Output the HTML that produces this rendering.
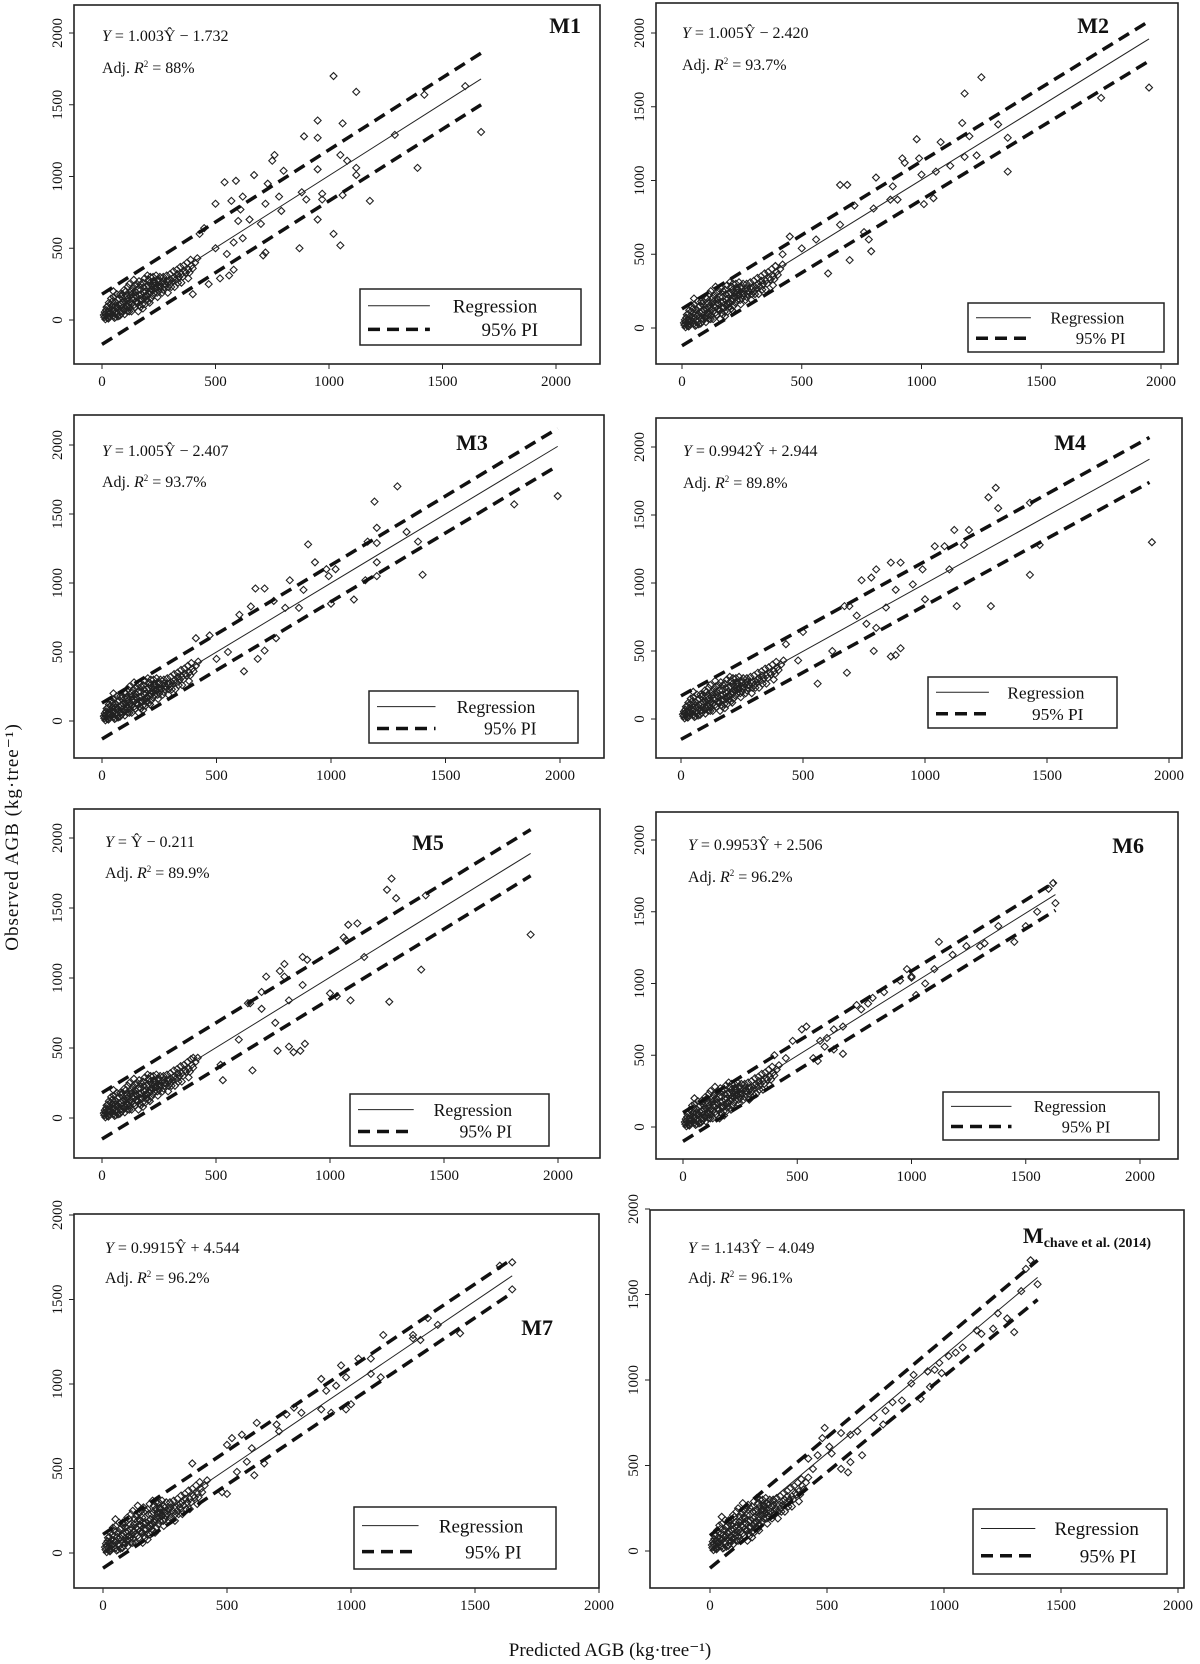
<!DOCTYPE html>
<html><head><meta charset="utf-8"><style>
body{margin:0;background:#fff}
svg{display:block}
text{font-family:"Liberation Serif",serif;fill:#111}
</style></head><body>
<svg id="fig" width="1200" height="1664" viewBox="0 0 1200 1664" xmlns="http://www.w3.org/2000/svg">
<text transform="translate(18,837) rotate(-90)" text-anchor="middle" font-size="19" letter-spacing="1">Observed AGB (kg·tree⁻¹)</text>
<text x="610" y="1656" text-anchor="middle" font-size="19">Predicted AGB (kg·tree⁻¹)</text>
</svg>
<script>
// ---- data ----
const panelNames = ["M1","M2","M3","M4","M5","M6","M7","M8"];
const equations = ["1.003\u0176 \u2212 1.732","1.005\u0176 \u2212 2.420","1.005\u0176 \u2212 2.407","0.9942\u0176 + 2.944","\u0176 \u2212 0.211","0.9953\u0176 + 2.506","0.9915\u0176 + 4.544","1.143\u0176 \u2212 4.049"];
const adjR2 = ["88%","93.7%","93.7%","89.8%","89.9%","96.2%","96.2%","96.1%"];
const xTicks = [0,500,1000,1500,2000];
const yTicks = [0,500,1000,1500,2000];
const lineEndX = [1670,1950,1990,1920,1880,1630,1650,1400];
const regStart = [0,0,0,0,0,0,0,0];
const regEnd = [1680,1960,1990,1910,1890,1620,1640,1600];
const upStart = [180,130,130,170,180,100,110,90];
const upEnd = [1860,2080,2120,2070,2060,1710,1740,1700];
const loStart = [-170,-120,-130,-150,-150,-100,-90,-100];
const loEnd = [1500,1810,1850,1740,1730,1510,1540,1470];
const clusterPts = [[10,20],[15,40],[20,30],[25,60],[30,15],[35,80],[40,50],[45,100],[50,30],[55,70],[60,120],[65,40],[70,90],[75,150],[80,60],[85,110],[90,180],[95,70],[100,130],[105,200],[110,90],[115,150],[120,60],[125,170],[130,110],[135,220],[140,140],[145,90],[150,190],[155,250],[160,120],[165,170],[170,210],[175,140],[180,260],[185,190],[190,110],[195,230],[200,170],[205,280],[210,200],[215,150],[220,240],[225,300],[230,190],[235,260],[240,220],[245,160],[250,270],[260,230],[270,300],[280,250],[290,190],[300,320],[310,270],[320,230],[330,350],[340,300],[350,260],[360,380],[370,330],[380,290],[390,420],[400,360],[20,90],[40,150],[60,20],[80,180],[100,40],[140,280],[160,60],[200,310],[120,250],[30,120],[50,200],[180,80],[12,55],[28,10],[45,130],[70,25],[90,60],[110,170],[130,60],[150,130],[170,90],[190,160],[210,120],[230,270],[250,200],[270,210],[300,250],[320,300],[350,320],[380,350],
[8,35],[18,70],[22,15],[33,45],[38,110],[48,65],[52,160],[58,95],[63,55],[68,140],[73,105],[78,30],[83,165],[88,85],[93,125],[98,210],[103,75],[108,140],[113,230],[118,110],[123,85],[128,200],[133,150],[138,100],[143,240],[148,170],[153,120],[158,210],[163,270],[168,140],[173,180],[178,110],[183,230],[188,290],[193,170],[198,140],[203,240],[208,180],[213,300],[218,210],[223,170],[228,260],[233,220],[238,310],[243,190],[248,240],[255,300],[265,260],[275,230],[285,310],[295,270],[305,230],[315,340],[325,280],[335,260],[345,370],[355,300],[365,340],[375,400],[385,330],[395,380],[410,400],[420,430],[15,5],[25,95],[35,25],[55,15],[65,180],[85,45],[105,105],[125,130],[145,200],[165,100],[185,150],[205,130],[225,210],[245,280],[265,190],[285,270],[62,85],[42,75],[32,60],[92,150],[112,60],[132,180],[152,160],[172,250],[192,200],[212,260],[232,240],[252,220],[272,270],[292,230],[312,290],[332,320]];
const pts1 = [[1020,1700],[1120,1590],[1600,1630],[1420,1570],[950,1390],[1060,1370],[890,1280],[950,1270],[1290,1290],[760,1150],[750,1110],[1050,1150],[1080,1110],[1120,1060],[1120,1010],[1390,1060],[950,1050],[670,1010],[540,960],[590,970],[800,1040],[730,950],[620,860],[570,830],[500,810],[780,860],[880,890],[900,840],[970,880],[970,840],[1060,870],[1180,830],[1670,1310],[720,810],[610,770],[650,700],[600,690],[700,670],[790,760],[950,700],[1020,600],[1050,520],[870,500],[720,470],[710,450],[580,540],[550,460],[450,640],[430,600],[500,500],[580,350],[560,310],[470,250],[400,180],[520,290],[620,570]];
const pts2 = [[1250,1700],[1180,1590],[1950,1630],[1750,1560],[1170,1390],[1320,1380],[1360,1290],[980,1280],[1080,1260],[1200,1300],[920,1150],[990,1150],[930,1120],[1120,1100],[1060,1060],[1360,1060],[1000,1040],[810,1020],[660,970],[690,970],[880,960],[720,830],[800,810],[870,870],[900,870],[1010,840],[1050,880],[780,600],[700,460],[610,370],[790,520],[560,600],[660,700],[450,620],[420,500],[500,540],[390,420],[760,650],[1180,1160],[1230,1170]];
const pts3 = [[1290,1700],[1190,1590],[1990,1630],[1800,1570],[1200,1400],[1330,1370],[900,1280],[1160,1300],[1200,1290],[930,1150],[980,1100],[1020,1100],[1200,1150],[1400,1060],[990,1050],[820,1020],[670,960],[710,960],[880,950],[750,870],[800,820],[860,820],[1000,850],[1100,880],[1150,1020],[1200,1050],[760,600],[710,510],[620,360],[680,450],[410,600],[470,620],[600,770],[650,830],[500,450],[550,500],[1380,1300]];
const pts4 = [[1290,1700],[1260,1630],[1300,1550],[1430,1590],[1930,1300],[1430,1060],[1270,830],[1080,1270],[1040,1270],[1120,1390],[1180,1390],[1160,1280],[1100,1100],[990,1100],[860,1150],[900,1150],[800,1100],[780,1040],[740,1020],[670,830],[690,830],[720,760],[760,700],[800,670],[840,820],[880,950],[950,990],[1000,880],[1130,830],[860,460],[880,470],[900,520],[790,500],[680,340],[560,260],[620,500],[480,430],[430,550],[500,640],[1470,1280]];
const pts5 = [[1270,1710],[1250,1630],[1290,1570],[1420,1590],[1880,1310],[1400,1060],[1260,830],[1060,1290],[1070,1270],[1120,1390],[1080,1380],[1150,1150],[880,1150],[900,1130],[800,1100],[780,1050],[800,1010],[720,1010],[700,900],[640,820],[650,820],[700,780],[760,680],[820,840],[880,950],[1000,890],[1030,870],[1090,840],[820,510],[840,470],[870,480],[890,530],[770,480],[660,340],[530,270],[600,560],[520,380],[400,430]];
const pts6 = [[1620,1700],[1600,1660],[1630,1560],[1450,1290],[1380,1400],[1300,1260],[1320,1280],[1120,1290],[1180,1200],[1100,1100],[980,1100],[1000,1040],[1000,1050],[950,1020],[1060,1000],[1020,920],[880,940],[830,900],[810,860],[780,820],[760,850],[700,700],[660,680],[630,620],[520,680],[540,700],[480,600],[600,600],[620,560],[660,540],[570,480],[590,460],[700,510],[400,500],[450,480],[1240,1260],[1500,1400],[1550,1500]];
const pts7 = [[1650,1720],[1600,1700],[1650,1560],[1440,1300],[1310,1390],[1250,1290],[1280,1260],[1130,1290],[1080,1060],[1120,1040],[1080,1150],[1030,1150],[960,1110],[980,1040],[940,990],[880,1030],[900,960],[1000,880],[980,850],[920,830],[880,850],[800,830],[770,860],[740,820],[700,760],[710,720],[620,770],[560,700],[520,680],[500,640],[600,620],[580,540],[650,530],[540,480],[610,460],[480,360],[500,350],[360,530],[1250,1270],[1350,1350]];
const pts8 = [[1370,1700],[1350,1650],[1400,1560],[1330,1520],[1230,1390],[1210,1300],[1140,1290],[1160,1270],[1080,1190],[1050,1160],[1020,1140],[980,1100],[960,1060],[930,1050],[870,1030],[860,980],[940,960],[990,1040],[900,890],[820,880],[780,870],[750,820],[740,740],[700,780],[630,700],[600,680],[560,690],[490,720],[480,660],[510,610],[520,570],[460,560],[600,520],[590,460],[560,480],[650,560],[420,540],[440,480],[1270,1360],[1300,1280]];
const panelPts = [pts1,pts2,pts3,pts4,pts5,pts6,pts7,pts8];

// ---- layout (pixels) ----
const boxes = [[74,5,600,364],[656,3,1178,364],[74,415,604,758],[656,418,1182,758],[74,809,600,1158],[656,812,1178,1159],[74,1214,599,1588],[650,1210,1184,1588]];
const xPix = [[102,556],[682,1161],[102,560],[681,1169],[102,558],[683,1140],[103,599],[710,1178]];
const yPix = [[320,33],[328,33],[721,445],[719,447],[1118,838],[1127,840],[1553,1215],[1551,1209]];
const legBox = [[360,289,581,345],[968,303,1164,352],[369,691,578,743],[928,677,1117,728],[350,1094,549,1146],[943,1092,1159,1140],[354,1507,556,1569],[973,1509,1167,1574]];
const eqPos = [[102,36,68],[682,33,65],[102,451,482],[683,451,483],[105,842,873],[688,845,877],[105,1248,1278],[688,1248,1278]];
const titlePos = [[581,25,"end"],[1109,25,"end"],[472,442,"middle"],[1086,442,"end"],[428,842,"middle"],[1144,845,"end"],[553,1327,"end"],[1151,1235,"end"]];

const NS="http://www.w3.org/2000/svg";
const fig=document.getElementById('fig');
function mk(tag,attrs,parent){const e=document.createElementNS(NS,tag);for(const k in attrs)e.setAttribute(k,attrs[k]);parent.appendChild(e);return e;}

panelNames.forEach((nm,i)=>{
  const g=mk('g',{},fig);
  
  
  const [l,t,r,b]=boxes[i];
  const sx=v=>xPix[i][0]+(xPix[i][1]-xPix[i][0])*v/2000;
  const sy=v=>yPix[i][0]+(yPix[i][1]-yPix[i][0])*v/2000;
  const box=mk('rect',{x:l,y:t,width:r-l,height:b-t,fill:'none',stroke:'#222','stroke-width':1.6},g);
  
  
  xTicks.forEach(v=>{
    const tk=mk('line',{x1:sx(v),x2:sx(v),y1:b,y2:b+5,stroke:'#222','stroke-width':1},g);
    
    
    const tx=mk('text',{x:sx(v),y:b+22,'text-anchor':'middle','font-size':15},g);
    
    
    tx.textContent=v;
  });
  yTicks.forEach(v=>{
    const tk=mk('line',{x1:l-5,x2:l,y1:sy(v),y2:sy(v),stroke:'#222','stroke-width':1},g);
    
    
    const tx=mk('text',{transform:`translate(${l-12},${sy(v)}) rotate(-90)`,'text-anchor':'middle','font-size':15},g);
    
    
    tx.textContent=v;
  });
  const all=clusterPts.concat(panelPts[i]);
  all.forEach(p=>{
    const cx=sx(p[0]),cy=sy(p[1]);
    const d=mk('path',{d:`M${cx} ${cy-3.5}L${cx+3.5} ${cy}L${cx} ${cy+3.5}L${cx-3.5} ${cy}Z`,fill:'none',stroke:'#222','stroke-width':1.1},g);
    
    
  });
  const xe=lineEndX[i];
  const reg=mk('line',{x1:sx(0),y1:sy(regStart[i]),x2:sx(xe),y2:sy(regEnd[i]),stroke:'#222','stroke-width':1},g);
  
  
  const up=mk('line',{x1:sx(0),y1:sy(upStart[i]),x2:sx(xe),y2:sy(upEnd[i]),stroke:'#111','stroke-width':3.5,'stroke-dasharray':'12 7'},g);
  
  
  const lo=mk('line',{x1:sx(0),y1:sy(loStart[i]),x2:sx(xe),y2:sy(loEnd[i]),stroke:'#111','stroke-width':3.5,'stroke-dasharray':'12 7'},g);
  
  
  const [ex,ey1,ey2]=eqPos[i];
  const eq=mk('text',{x:ex,y:ey1+5,'font-size':16},g);
  
  
  eq.innerHTML='<tspan font-style="italic">Y</tspan> = '+equations[i];
  const r2=mk('text',{x:ex,y:ey2+5,'font-size':16},g);
  
  
  r2.innerHTML='Adj. <tspan font-style="italic">R</tspan><tspan font-size="9" dy="-6">2</tspan><tspan dy="6"> = '+adjR2[i]+'</tspan>';
  const [tx,ty,ta]=titlePos[i];
  const ti=mk('text',{x:tx,y:ty+8,'text-anchor':ta,'font-size':22,'font-weight':'bold'},g);
  
  
  if(i===7){ti.innerHTML='M<tspan font-size="14" dy="4">chave et al. (2014)</tspan>';}
  else ti.textContent=nm;
  const [ll,lt,lr,lb]=legBox[i];
  const lg=mk('g',{},g);
  
  
  mk('rect',{x:ll,y:lt,width:lr-ll,height:lb-lt,fill:'#fff',stroke:'#222','stroke-width':1.5},lg);
  const h=lb-lt, fs=Math.min(19,h*0.34), w=lr-ll;
  const y1=lt+h*0.3, y2=lt+h*0.72;
  const e1=mk('line',{x1:ll+8,x2:ll+8+w*0.28,y1:y1,y2:y1,stroke:'#222','stroke-width':1},lg);
  
  
  const t1=mk('text',{x:ll+w*0.42,y:y1+fs*0.35,'font-size':fs},lg);
  
  
  t1.textContent='Regression';
  const e2=mk('line',{x1:ll+8,x2:ll+8+w*0.28,y1:y2,y2:y2,stroke:'#111','stroke-width':3.5,'stroke-dasharray':'12 7'},lg);
  
  
  const t2=mk('text',{x:ll+w*0.55,y:y2+fs*0.35,'font-size':fs},lg);
  
  
  t2.textContent='95% PI';
});
</script>
</body></html>
